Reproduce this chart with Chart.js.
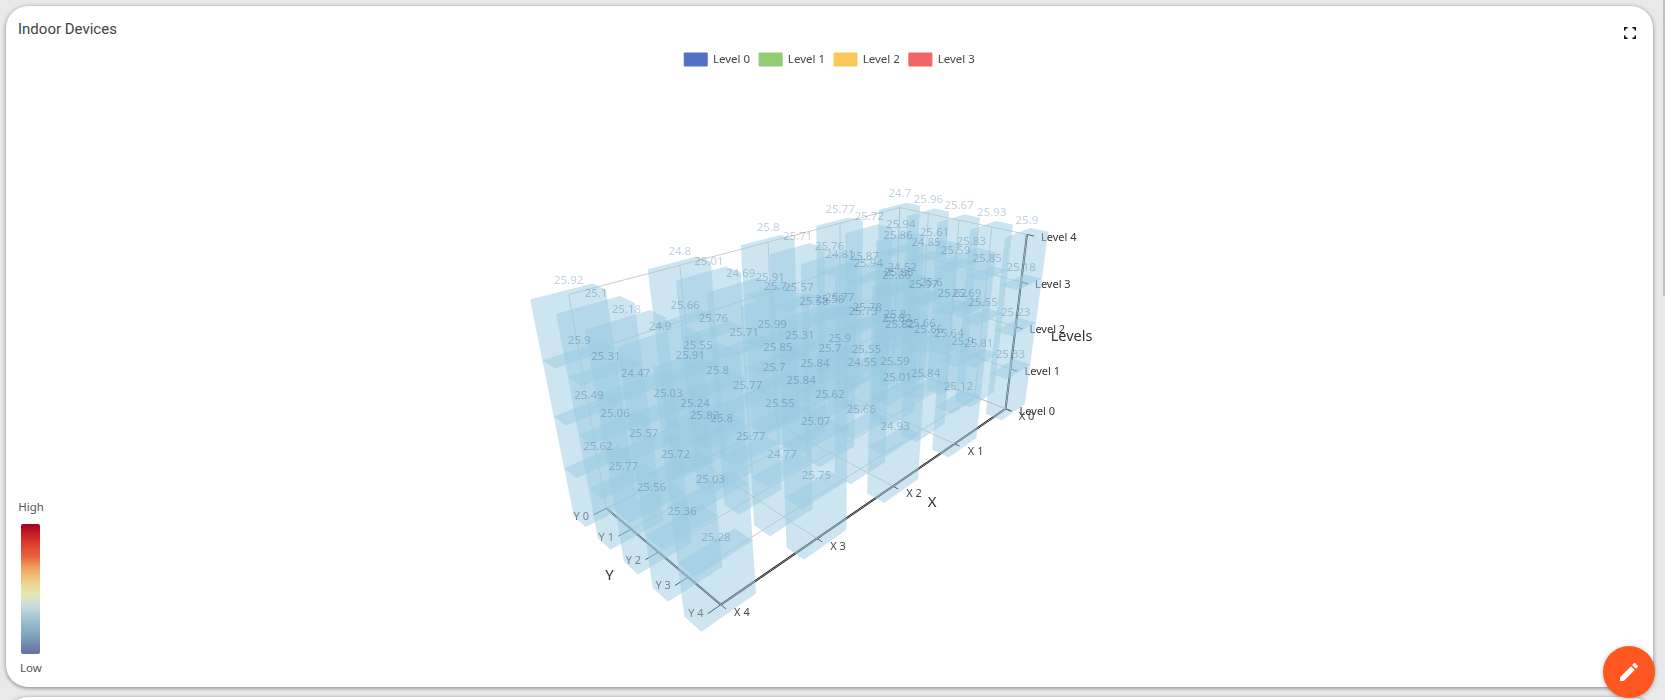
<!DOCTYPE html>
<html>
<head>
<meta charset="utf-8">
<title>Indoor Devices</title>
<script src="https://cdn.jsdelivr.net/npm/chart.js@4"></script>
<style>
  html, body { margin: 0; height: 100%; background: #e9e9e9; overflow: hidden; font-family: Roboto, sans-serif; }
  .card { position: absolute; left: 6px; width: 1647px; background: #fff; border-radius: 22px; box-shadow: 0 1px 4px rgba(0,0,0,.45); }
  .title { position: absolute; left: 18px; top: 20px; font-size: 15px; color: #444; }
  .range { position: absolute; left: 21px; top: 524px; width: 19px; height: 130px; border-radius: 2px;
           background: linear-gradient(#a50026 0%, #d73027 12%, #e8643f 25%, #f3a762 35%, #ecd68f 46%, #e6e6b4 54%, #c9dbe0 63%, #9ec0d0 74%, #7fa3bd 86%, #66709f 100%); }
  .rangeText { position: absolute; width: 50px; left: 6px; text-align: center; font: 11.5px "Noto Sans"; color: #555; }
  .fab { position: absolute; left: 1603px; top: 646px; width: 52px; height: 52px; border-radius: 50%; background: #ff5722; box-shadow: 0 1px 4px rgba(0,0,0,.3); }
  .thumb { position: absolute; left: 1663px; top: 0; width: 2px; height: 296px; background: #c1c1c1; }
  svg { position: absolute; }
  canvas { position: absolute; left: 0; top: 0; }
</style>
</head>
<body>
<div class="thumb"></div>
<div class="card" style="top:6px;height:681px"></div>
<div class="card" style="top:697px;height:60px"></div>
<div class="title">Indoor Devices</div>
<svg style="left:1624px;top:27px" width="12" height="12" viewBox="0 0 12 12" fill="none" stroke="#111" stroke-width="1.6">
  <path d="M.8 3.6V.8H3.6M8.4 .8H11.2V3.6M11.2 8.4V11.2H8.4M3.6 11.2H.8V8.4"/>
</svg>
<div class="rangeText" style="top:499px">High</div>
<div class="range"></div>
<div class="rangeText" style="top:660px">Low</div>
<canvas id="chart" width="1665" height="700"></canvas>
<div class="fab"><svg style="left:14px;top:14px" width="24" height="24" viewBox="0 0 24 24" fill="#fff"><path d="M3 17.25V21h3.75L17.81 9.94l-3.75-3.75L3 17.25zM20.71 7.04a1 1 0 0 0 0-1.41l-2.34-2.34a1 1 0 0 0-1.41 0l-1.83 1.83 3.75 3.75 1.83-1.83z"/></svg></div>
<script>
const xNames = ["X 0", "X 1", "X 2", "X 3", "X 4"];
const yNames = ["Y 0", "Y 1", "Y 2", "Y 3", "Y 4"];
const zNames = ["Level 0", "Level 1", "Level 2", "Level 3", "Level 4"];
const seriesNames = ["Level 0", "Level 1", "Level 2", "Level 3"];
const seriesColors = ["#5470c6", "#91cc75", "#fac858", "#ee6666"];

// readings per level, one row per X, one entry per Y
const level0Values = [
    [25.8, 25.66, 25.64, 25.81, 25.33],
    [25.9, 25.55, 25.59, 25.84, 25.12],
    [25.7, 25.84, 25.62, 25.66, 24.93],
    [25.24, 25.8, 25.77, 24.77, 25.75],
    [25.62, 25.77, 25.56, 25.36, 25.28]
];
const level1Values = [
    [25.86, 25.97, 25.62, 25.55, 25.23],
    [25.77, 25.78, 25.82, 25.66, 25.9],
    [25.99, 25.31, 25.7, 24.55, 25.01],
    [25.91, 25.8, 25.77, 25.55, 25.07],
    [25.49, 25.06, 25.57, 25.72, 25.03]
];
const level2Values = [
    [25.86, 24.85, 25.59, 25.85, 25.18],
    [24.81, 25.94, 25.86, 25.6, 25.69],
    [25.91, 25.57, 25.58, 25.73, 25.82],
    [25.66, 25.76, 25.71, 25.85, 25.84],
    [25.9, 25.31, 24.47, 25.03, 25.82]
];
const level3Values = [
    [24.7, 25.96, 25.67, 25.93, 25.9],
    [25.77, 25.72, 25.94, 25.61, 25.83],
    [25.8, 25.71, 25.76, 25.87, 24.52],
    [24.8, 25.01, 24.69, 25.7, 25.58],
    [25.92, 25.1, 25.18, 24.9, 25.55]
];
const levelValues = [level0Values, level1Values, level2Values, level3Values];
const barHalf = 0.25;

// camera fit: [x, y, z] on the grid -> where it lands in the picture
const camWorld = [[0,4,0],[4,4,0],[4,0,0],[0,0,0],[0,4,4],[4,0,4],[0,0,4]];
const camImage = [[1005,411],[720,604],[606,511],[893,363],[1027,234],[568,294],[899,209]];

function solve(A, b) {
    const n = b.length;
    for (let i = 0; i < n; i++) {
        let p = i;
        for (let r = i + 1; r < n; r++) if (Math.abs(A[r][i]) > Math.abs(A[p][i])) p = r;
        [A[i], A[p]] = [A[p], A[i]]; [b[i], b[p]] = [b[p], b[i]];
        for (let r = i + 1; r < n; r++) {
            const f = A[r][i] / A[i][i];
            for (let c = i; c < n; c++) A[r][c] -= f * A[i][c];
            b[r] -= f * b[i];
        }
    }
    const out = new Array(n).fill(0);
    for (let i = n - 1; i >= 0; i--) {
        let s = b[i];
        for (let c = i + 1; c < n; c++) s -= A[i][c] * out[c];
        out[i] = s / A[i][i];
    }
    return out;
}
function fitCamera() {
    const N = Array.from({length: 11}, () => new Array(11).fill(0));
    const B = new Array(11).fill(0);
    camWorld.forEach((w, i) => {
        const [X, Y, Z] = w, [u, v] = camImage[i];
        const rows = [[X,Y,Z,1,0,0,0,0,-u*X,-u*Y,-u*Z, u], [0,0,0,0,X,Y,Z,1,-v*X,-v*Y,-v*Z, v]];
        rows.forEach(r => {
            for (let a = 0; a < 11; a++) {
                for (let c = 0; c < 11; c++) N[a][c] += r[a] * r[c];
                B[a] += r[a] * r[11];
            }
        });
    });
    return solve(N, B);
}
const cam = fitCamera();
function project(x, y, z) {
    const w = cam[8]*x + cam[9]*y + cam[10]*z + 1;
    return { x: (cam[0]*x + cam[1]*y + cam[2]*z + cam[3]) / w, y: (cam[4]*x + cam[5]*y + cam[6]*z + cam[7]) / w };
}
function hull(pts) {
    const p = pts.slice().sort((a, b) => a.x - b.x || a.y - b.y);
    const cross = (o, a, b) => (a.x - o.x) * (b.y - o.y) - (a.y - o.y) * (b.x - o.x);
    const lo = [], up = [];
    p.forEach(q => { while (lo.length > 1 && cross(lo[lo.length-2], lo[lo.length-1], q) <= 0) lo.pop(); lo.push(q); });
    p.slice().reverse().forEach(q => { while (up.length > 1 && cross(up[up.length-2], up[up.length-1], q) <= 0) up.pop(); up.push(q); });
    return lo.slice(0, -1).concat(up.slice(0, -1));
}

const fillBlue = "rgba(155,203,226,0.5)";
const datasets = seriesNames.map((n, i) => ({ label: n, data: [], backgroundColor: seriesColors[i], borderColor: seriesColors[i], order: 0 }));
function poly(points, color) {
    datasets.push({ data: points.concat([points[0]]), showLine: true, fill: "shape", backgroundColor: color, borderWidth: 0, pointRadius: 0, borderColor: "transparent", order: 1 });
}
function line(a, b, color, width) {
    datasets.push({ data: [project(...a), project(...b)], showLine: true, borderColor: color, borderWidth: width, pointRadius: 0, fill: false, order: 2 });
}

// grid on floor and two walls
const gridColor = "rgba(190,190,190,0.8)";
for (let i = 0; i < 5; i++) {
    line([i,0,0],[i,4,0],gridColor,1);
    line([0,i,0],[4,i,0],gridColor,1);
    line([i,0,0],[i,0,4],gridColor,1);
    line([0,i,0],[0,i,4],gridColor,1);
    line([0,0,i],[4,0,i],gridColor,1);
    line([0,0,i],[0,4,i],gridColor,1);
}

// axes and ticks go under the bars
line([0,4,0],[4,4,0],"#000",2);
line([4,0,0],[4,4,0],"#000",2);
line([0,4,0],[0,4,4],"#000",2);
for (let i = 0; i < 5; i++) {
    line([i,4,0],[i,4.15,0],"#000",1);
    line([4,i,0],[4.12,i,0],"#000",1);
    line([0,4,i],[0,4.2,i],"#000",1);
}

// one bar per reading: the stack reads as one column, with a plate at each level
for (let x = 0; x < 5; x++) for (let y = 0; y < 5; y++) {
    const corners = [];
    [-barHalf, barHalf].forEach(dx => [-barHalf, barHalf].forEach(dy => [0, levelValues.length].forEach(z => corners.push(project(x+dx, y+dy, z)))));
    poly(hull(corners), fillBlue);
    for (let z = 1; z < levelValues.length; z++) {
        poly([[-1,-1],[1,-1],[1,1],[-1,1]].map(c => project(x + c[0]*barHalf, y + c[1]*barHalf, z)), fillBlue);
    }
}

const tickPlugin = {
    id: "tickPlugin",
    beforeDatasetsDraw(chart) {
        const ctx = chart.ctx, sx = chart.scales.x, sy = chart.scales.y;
        ctx.save();
        ctx.textBaseline = "middle";
        const put = (txt, w, ox, oy, font, color, align) => {
            const p = project(...w);
            ctx.font = font; ctx.fillStyle = color; ctx.textAlign = align || "center";
            ctx.fillText(txt, sx.getPixelForValue(p.x) + ox, sy.getPixelForValue(p.y) + oy);
        };
        const tickFont = '11px "Noto Sans"';
        for (let i = 0; i < 5; i++) {
            put(xNames[i], [i,4,0], 21, 8, tickFont, "#444");
            put(yNames[i], [4,i,0], -25, 9, tickFont, "#444");
            put(zNames[i], [0,4,i], 14, 3, tickFont, "#333", "left");
        }
        put("X", [2,4,0], 39, 17, '15px "Noto Sans"', "#333");
        put("Y", [4,2,0], -49, 24, '15px "Noto Sans"', "#333");
        put("Levels", [0,4,2], 56, 10, '14.5px "Noto Sans"', "#333");
        ctx.restore();
    }
};

// bar labels sit at the top of each bar and take the tone of what is behind them
const valuePlugin = {
    id: "valuePlugin",
    afterDatasetsDraw(chart) {
        const ctx = chart.ctx, sx = chart.scales.x, sy = chart.scales.y;
        ctx.save();
        ctx.globalCompositeOperation = "multiply";
        ctx.font = '11.5px "Noto Sans"';
        ctx.fillStyle = "rgb(196,210,222)";
        ctx.textAlign = "center"; ctx.textBaseline = "middle";
        levelValues.forEach((rows, l) => rows.forEach((row, x) => row.forEach((v, y) => {
            const p = project(x, y, l + 1);
            ctx.fillText(String(v), sx.getPixelForValue(p.x), sy.getPixelForValue(p.y) - 14);
        })));
        ctx.restore();
    }
};

const chart = new Chart(document.getElementById("chart"), {
    type: "scatter",
    data: { datasets: datasets },
    options: {
        responsive: false,
        animation: false,
        scales: {
            x: { display: false, min: 0, max: 1659 },
            y: { display: false, reverse: true, min: 0, max: 700 }
        },
        plugins: {
            tooltip: { enabled: false },
            legend: {
                labels: {
                    filter: item => item.text !== undefined,
                    boxWidth: 23, boxHeight: 13, padding: 9,
                    color: "#444", font: { family: "Noto Sans", size: 11.5 }
                }
            }
        },
        layout: { padding: { top: 44, right: 6 } }
    },
    plugins: [tickPlugin, valuePlugin]
});
chart.options.scales.y.min = chart.chartArea.top;
chart.update("none");
</script>
</body>
</html>
